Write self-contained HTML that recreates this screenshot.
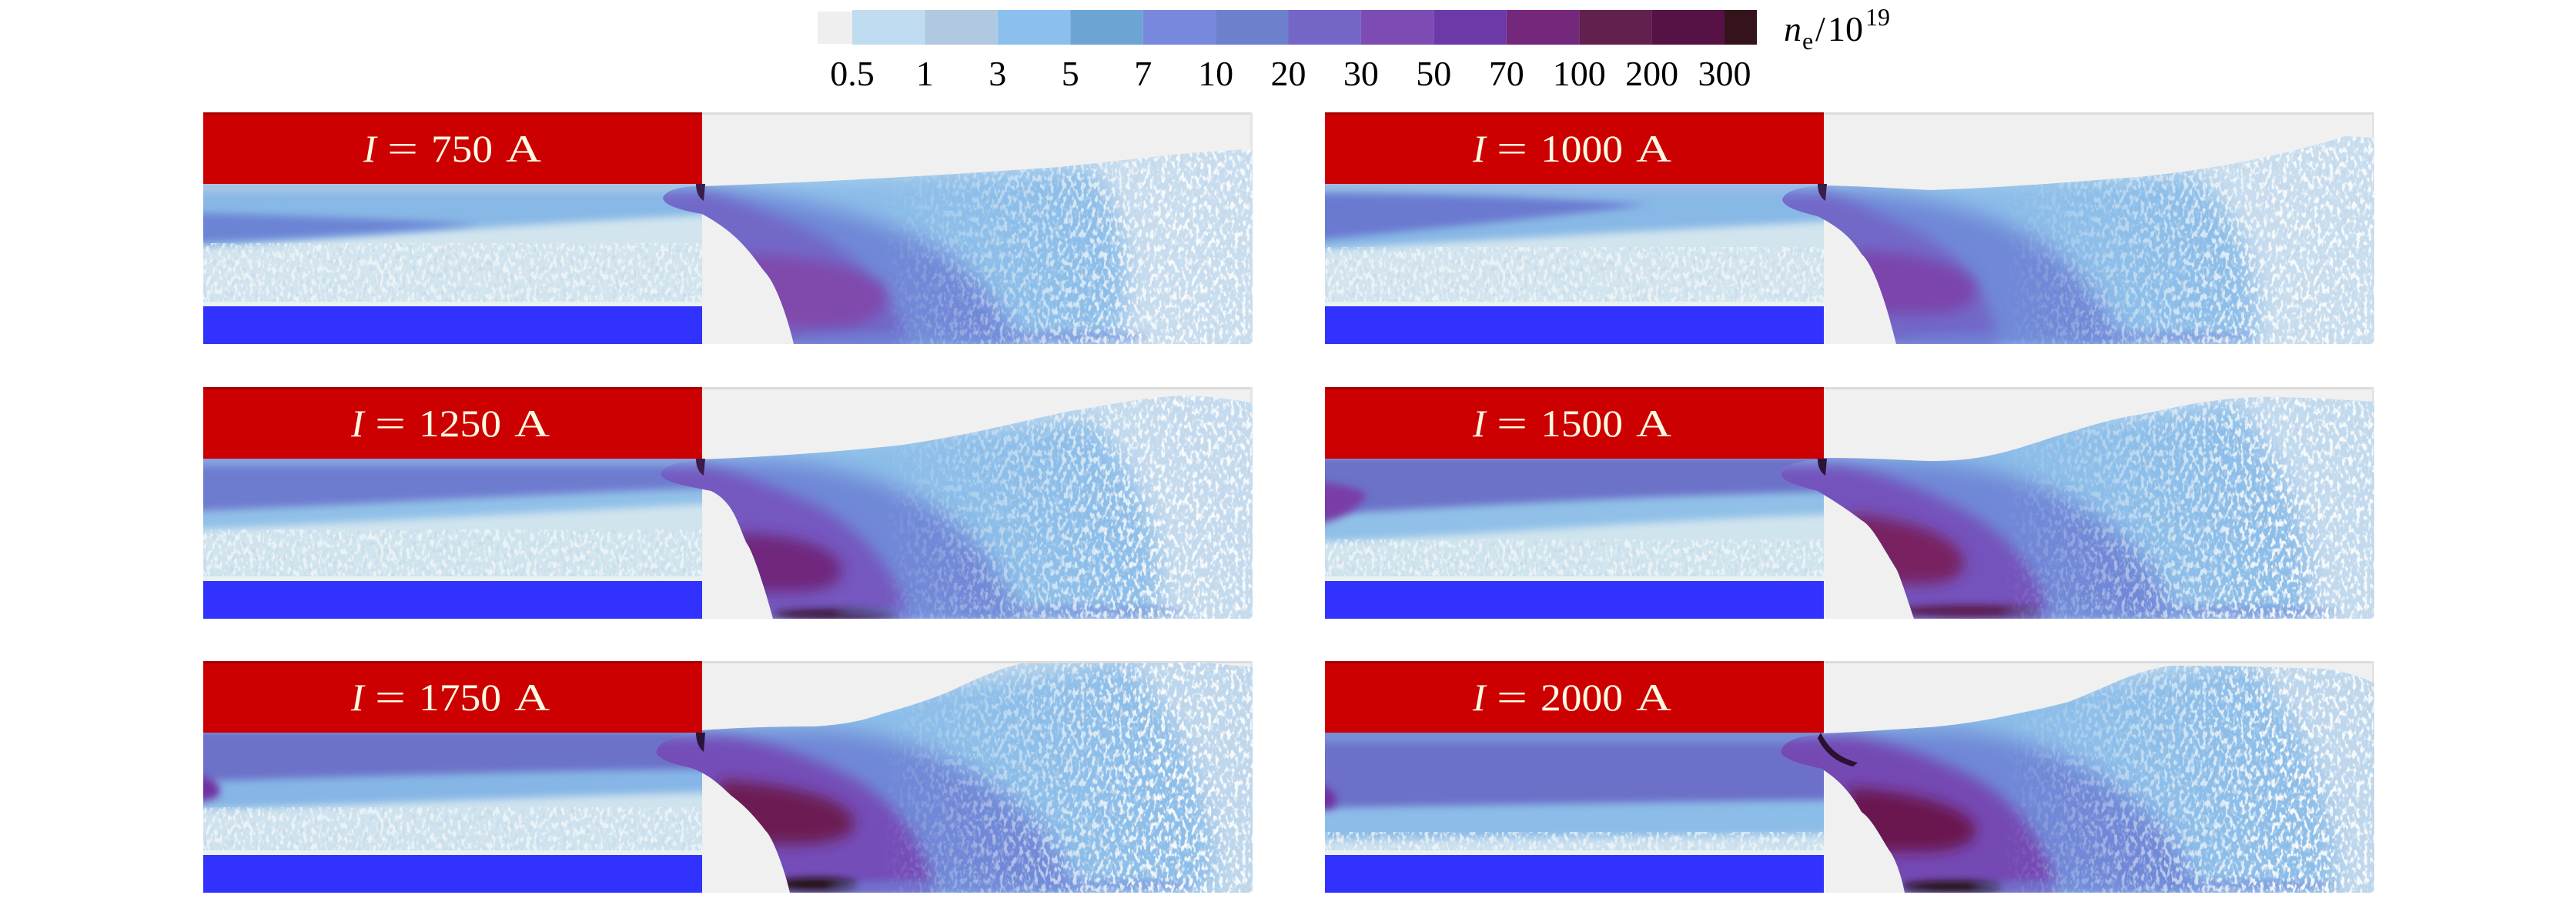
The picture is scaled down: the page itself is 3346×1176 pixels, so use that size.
<!DOCTYPE html>
<html><head><meta charset="utf-8"><style>
html,body{margin:0;padding:0;background:#fff;}
body{width:3346px;height:1176px;overflow:hidden;}
svg{display:block;}
</style></head><body>
<svg width="3346" height="1176" viewBox="0 0 3346 1176" xmlns="http://www.w3.org/2000/svg">
<defs>
<filter id="b1" x="-50%" y="-50%" width="200%" height="200%"><feGaussianBlur stdDeviation="14"/></filter>
<filter id="b2" x="-60%" y="-60%" width="220%" height="220%"><feGaussianBlur stdDeviation="9"/></filter>
<filter id="b3" x="-20%" y="-100%" width="140%" height="300%"><feGaussianBlur stdDeviation="5"/></filter>
<filter id="nz" x="0" y="0" width="100%" height="100%"><feTurbulence type="fractalNoise" baseFrequency="0.2 0.11" numOctaves="2" seed="5"/><feColorMatrix type="matrix" values="0 0 0 0 0.93  0 0 0 0 0.96  0 0 0 0 0.96  0 0 0 7 -3.5"/></filter>
<filter id="nz2" x="0" y="0" width="100%" height="100%"><feTurbulence type="fractalNoise" baseFrequency="0.22 0.12" numOctaves="2" seed="11"/><feColorMatrix type="matrix" values="0 0 0 0 0.55  0 0 0 0 0.66  0 0 0 0 0.84  0 0 0 8 -4.6"/></filter>
<linearGradient id="gR" gradientUnits="userSpaceOnUse" x1="880" y1="0" x2="1250" y2="0"><stop offset="0" stop-color="#000"/><stop offset="1" stop-color="#fff"/></linearGradient>
<mask id="mR" maskUnits="userSpaceOnUse" x="0" y="0" width="1363" height="301"><rect x="0" y="0" width="1363" height="301" fill="url(#gR)"/></mask>
<clipPath id="chan"><rect x="0" y="93" width="648" height="158"/></clipPath>
<clipPath id="pnl"><rect x="0" y="0" width="1363" height="301"/></clipPath>
<clipPath id="plA"><path d="M648,96 C760,92 900,86 1112,71 C1200,62 1290,50 1363,48 L1363,301 L767,301 C760,270 745,225 731,209 C715,190 700,160 648,132 C625,128 600,122 597,112 C598,102 620,96 640,96 Z"/></clipPath>
<clipPath id="plB"><path d="M648,95 C700,96 760,100 787,101 C900,97 1000,88 1056,84 C1150,75 1250,55 1325,31 L1363,33 L1363,301 L742,301 C732,260 715,200 697,184 C685,165 670,150 640,135 C620,130 597,124 594,114 C596,102 620,96 640,96 Z"/></clipPath>
<clipPath id="plC"><path d="M648,94 C750,90 850,82 909,75 C1000,62 1080,40 1122,32 C1190,20 1240,12 1272,11 C1310,12 1340,16 1363,21 L1363,301 L740,301 C732,270 715,215 706,203 C695,180 690,150 660,135 C635,130 597,124 594,114 C596,102 620,96 640,96 Z"/></clipPath>
<clipPath id="plD"><path d="M648,92 C720,92 760,96 787,96 C830,96 850,92 877,86 C910,78 940,66 966,59 C1000,48 1030,40 1056,36 C1090,30 1120,22 1146,19 C1180,14 1210,12 1236,13 C1290,14 1330,17 1363,19 L1363,301 L765,301 C755,270 745,240 742,236 C720,200 710,180 697,173 C680,160 665,150 640,135 C620,130 595,124 592,114 C594,102 620,95 640,95 Z"/></clipPath>
<clipPath id="plE"><path d="M648,90 C700,86 760,85 794,85 C840,82 860,76 884,68 C920,58 950,48 973,38 C1010,20 1040,8 1063,3 L1300,2 L1363,8 L1363,301 L762,301 C755,270 740,230 731,221 C715,200 700,185 686,175 C670,160 655,145 630,138 C610,134 590,128 588,118 C590,104 618,94 640,94 Z"/></clipPath>
<clipPath id="plF"><path d="M648,94 C700,92 750,88 787,86 C830,82 850,78 877,73 C920,64 940,60 966,53 C1000,40 1030,25 1056,16 C1075,10 1090,7 1101,6 C1200,6 1280,10 1300,10 C1330,15 1350,22 1363,29 L1363,301 L753,301 C748,275 740,255 733,246 C720,225 710,205 697,196 C685,175 670,155 645,140 C622,135 594,128 592,118 C594,104 618,96 640,96 Z"/></clipPath>
</defs>

<!-- ===== Colorbar ===== -->
<g>
<rect x="1062" y="15" width="45" height="42" fill="#efefef"/>
<rect x="1107" y="13" width="94.4" height="45" fill="#c0dcf0"/>
<rect x="1201.4" y="13" width="94.4" height="45" fill="#b0c8e0"/>
<rect x="1295.8" y="13" width="94.5" height="45" fill="#8cc0ec"/>
<rect x="1390.3" y="13" width="94.4" height="45" fill="#6ea4d4"/>
<rect x="1484.7" y="13" width="94.4" height="45" fill="#7888dc"/>
<rect x="1579.1" y="13" width="94.4" height="45" fill="#6c80cc"/>
<rect x="1673.5" y="13" width="94.4" height="45" fill="#7466c6"/>
<rect x="1767.9" y="13" width="94.4" height="45" fill="#7c4cb4"/>
<rect x="1862.3" y="13" width="94.5" height="45" fill="#6c3aa8"/>
<rect x="1956.8" y="13" width="94.4" height="45" fill="#74287c"/>
<rect x="2051.2" y="13" width="94.4" height="45" fill="#62204e"/>
<rect x="2145.6" y="13" width="94.4" height="45" fill="#561244"/>
<rect x="2240" y="13" width="42" height="45" fill="#34141a"/>
</g>
<g font-family="'Liberation Serif','DejaVu Serif',serif" font-size="46" fill="#000" text-anchor="middle">
<text x="1107" y="111">0.5</text>
<text x="1201.4" y="111">1</text>
<text x="1295.8" y="111">3</text>
<text x="1390.3" y="111">5</text>
<text x="1484.7" y="111">7</text>
<text x="1579.1" y="111">10</text>
<text x="1673.5" y="111">20</text>
<text x="1767.9" y="111">30</text>
<text x="1862.3" y="111">50</text>
<text x="1956.8" y="111">70</text>
<text x="2051.2" y="111">100</text>
<text x="2145.6" y="111">200</text>
<text x="2240" y="111">300</text>
</g>
<g font-family="'Liberation Serif','DejaVu Serif',serif" fill="#000">
<text x="2317" y="53" font-size="46" font-style="italic">n</text>
<text x="2341" y="64" font-size="32">e</text>
<text x="2358" y="53" font-size="46">/</text>
<text x="2374" y="53" font-size="46">10</text>
<text x="2423" y="33" font-size="32">19</text>
</g>

<!-- ===== Panel A: 750 A ===== -->
<g transform="translate(264,146)"><g clip-path="url(#pnl)">
<rect width="1363" height="301" fill="#f0f0f0"/>
<rect x="648" y="0" width="715" height="3" fill="#dcdcdc"/>
<rect x="1360" y="0" width="3" height="301" fill="#e4e4e4"/>
<g clip-path="url(#chan)">
<rect x="0" y="93" width="648" height="159" fill="#d2e5ee"/>
<path d="M-30,90 H680 V132 C500,140 300,155 -30,176 Z" fill="#88b8e6" filter="url(#b3)"/>
<path d="M-30,90 H680 V104 H-30 Z" fill="#a8c6e4" filter="url(#b3)"/>
<path d="M-30,130 C120,134 260,140 360,145 C240,156 120,164 -30,170Z" fill="#6c84d4" filter="url(#b3)"/>
<rect x="0" y="170" width="648" height="80" filter="url(#nz)" opacity="0.7"/>
<rect x="0" y="170" width="648" height="80" filter="url(#nz2)" opacity="0.5"/>
<rect x="0" y="246" width="648" height="6" fill="#e8f2f2"/>
</g>
<g clip-path="url(#plA)">
<rect x="580" y="0" width="790" height="301" fill="#c8ddee"/>
<path d="M560,90 L1150,70 C1200,120 1210,220 1190,301 L560,301 Z" fill="#8cbee9" filter="url(#b1)"/>
<path d="M560,100 L680,100 C800,115 920,145 985,200 C1030,240 1050,280 1060,301 L560,301 Z" fill="#6f88d7" filter="url(#b1)"/>
<path d="M560,104 L650,104 C690,112 730,130 780,150 C850,180 900,240 915,301 L560,301Z" fill="#7268c8" filter="url(#b2)"/>
<path d="M700,185 C780,185 860,200 885,230 C895,255 870,275 820,280 L700,280 Z" fill="#8048ac" filter="url(#b2)"/>
<ellipse cx="1000" cy="292" rx="230" ry="9" fill="#6c84d8" opacity="0.6" filter="url(#b3)"/>
<rect x="580" y="0" width="790" height="301" filter="url(#nz)" mask="url(#mR)"/>
<rect x="580" y="0" width="790" height="301" filter="url(#nz2)" mask="url(#mR)" opacity="0.6"/>
</g>
<rect x="0" y="0" width="648" height="93" fill="#cc0000"/>
<rect x="0" y="0" width="648" height="3" fill="#a80000"/>
<rect x="0" y="252" width="648" height="49" fill="#3232ff"/>
<path d="M640,93 L652,93 L650,115 C645,112 640,105 640,93 Z" fill="#3c1c48"/>
<g font-family="'Liberation Serif','DejaVu Serif',serif" font-size="50" fill="#fffbe3">
<text x="208" y="64" font-style="italic">I</text>
<text x="239" y="64" textLength="40" lengthAdjust="spacingAndGlyphs">=</text>
<text x="296" y="64" textLength="80" lengthAdjust="spacingAndGlyphs">750</text>
<text x="393" y="64" textLength="46" lengthAdjust="spacingAndGlyphs">A</text>
</g>
</g></g>

<!-- ===== Panel B: 1000 A ===== -->
<g transform="translate(1721,146)"><g clip-path="url(#pnl)">
<rect width="1363" height="301" fill="#f0f0f0"/>
<rect x="648" y="0" width="715" height="3" fill="#dcdcdc"/>
<rect x="1360" y="0" width="3" height="301" fill="#e4e4e4"/>
<g clip-path="url(#chan)">
<rect x="0" y="93" width="648" height="159" fill="#d2e5ee"/>
<path d="M-30,90 H680 V140 C500,150 300,160 -30,180 Z" fill="#88b8e6" filter="url(#b3)"/>
<path d="M-30,90 H680 V103 H-30 Z" fill="#9cbce4" filter="url(#b3)"/>
<path d="M-30,105 C150,105 300,112 420,120 C300,135 150,150 -30,168Z" fill="#6a7ad0" filter="url(#b3)"/>
<rect x="0" y="175" width="648" height="75" filter="url(#nz)" opacity="0.7"/>
<rect x="0" y="175" width="648" height="75" filter="url(#nz2)" opacity="0.5"/>
<rect x="0" y="246" width="648" height="6" fill="#e8f2f2"/>
</g>
<g clip-path="url(#plB)">
<rect x="580" y="0" width="790" height="301" fill="#c8ddee"/>
<path d="M560,90 L1130,80 C1190,130 1220,220 1210,301 L560,301Z" fill="#8cbee9" filter="url(#b1)"/>
<path d="M560,100 L700,102 C830,115 925,150 978,210 C1010,250 1030,280 1040,301 L560,301Z" fill="#6f88d7" filter="url(#b1)"/>
<path d="M560,106 L650,106 C690,115 725,135 770,155 C830,185 865,240 875,301 L560,301Z" fill="#7268c8" filter="url(#b2)"/>
<path d="M690,180 C760,182 830,195 845,225 C850,245 830,260 790,262 L690,262 Z" fill="#7c44ac" filter="url(#b2)"/>
<ellipse cx="980" cy="292" rx="230" ry="9" fill="#6c84d8" opacity="0.6" filter="url(#b3)"/>
<rect x="580" y="0" width="790" height="301" filter="url(#nz)" mask="url(#mR)"/>
<rect x="580" y="0" width="790" height="301" filter="url(#nz2)" mask="url(#mR)" opacity="0.6"/>
</g>
<rect x="0" y="0" width="648" height="93" fill="#cc0000"/>
<rect x="0" y="0" width="648" height="3" fill="#a80000"/>
<rect x="0" y="252" width="648" height="49" fill="#3232ff"/>
<path d="M640,93 L652,93 L650,115 C645,112 640,105 640,93 Z" fill="#3c1c48"/>
<g font-family="'Liberation Serif','DejaVu Serif',serif" font-size="50" fill="#fffbe3">
<text x="192" y="64" font-style="italic">I</text>
<text x="223" y="64" textLength="40" lengthAdjust="spacingAndGlyphs">=</text>
<text x="280" y="64" textLength="107" lengthAdjust="spacingAndGlyphs">1000</text>
<text x="404" y="64" textLength="46" lengthAdjust="spacingAndGlyphs">A</text>
</g>
</g></g>

<!-- ===== Panel C: 1250 A ===== -->
<g transform="translate(264,503)"><g clip-path="url(#pnl)">
<rect width="1363" height="301" fill="#f0f0f0"/>
<rect x="648" y="0" width="715" height="3" fill="#dcdcdc"/>
<rect x="1360" y="0" width="3" height="301" fill="#e4e4e4"/>
<g clip-path="url(#chan)">
<rect x="0" y="93" width="648" height="159" fill="#d0e4ee"/>
<path d="M-30,90 H680 V150 C500,160 300,170 -30,186 Z" fill="#90c0e8" filter="url(#b3)"/>
<path d="M-30,90 H680 V130 C450,138 250,150 -30,162 Z" fill="#6e7ccf" filter="url(#b3)"/>
<path d="M-30,90 H680 V102 H-30 Z" fill="#8aa8e0" filter="url(#b3)"/>
<rect x="0" y="185" width="648" height="65" filter="url(#nz)" opacity="0.7"/>
<rect x="0" y="185" width="648" height="65" filter="url(#nz2)" opacity="0.5"/>
<rect x="0" y="246" width="648" height="6" fill="#e8f2f2"/>
</g>
<g clip-path="url(#plC)">
<rect x="580" y="0" width="790" height="301" fill="#c4dbee"/>
<path d="M560,90 L1150,40 C1230,120 1250,220 1240,301 L560,301Z" fill="#8cbee9" filter="url(#b1)"/>
<path d="M560,98 L740,95 C870,105 965,150 1018,220 C1045,260 1055,285 1060,301 L560,301Z" fill="#6f88d7" filter="url(#b1)"/>
<path d="M560,104 L660,104 C700,112 740,130 790,150 C860,185 905,245 915,301 L560,301Z" fill="#7458c0" filter="url(#b2)"/>
<path d="M690,190 C760,190 820,205 830,235 C830,255 810,265 770,266 L690,266Z" fill="#70287c" filter="url(#b2)"/>
<ellipse cx="820" cy="295" rx="80" ry="7" fill="#401838" filter="url(#b3)"/>
<ellipse cx="1050" cy="292" rx="230" ry="9" fill="#6c84d8" opacity="0.6" filter="url(#b3)"/>
<rect x="580" y="0" width="790" height="301" filter="url(#nz)" mask="url(#mR)"/>
<rect x="580" y="0" width="790" height="301" filter="url(#nz2)" mask="url(#mR)" opacity="0.6"/>
</g>
<rect x="0" y="0" width="648" height="93" fill="#cc0000"/>
<rect x="0" y="0" width="648" height="3" fill="#a80000"/>
<rect x="0" y="252" width="648" height="49" fill="#3232ff"/>
<path d="M640,93 L652,93 L650,115 C645,112 640,105 640,93 Z" fill="#3c1c48"/>
<g font-family="'Liberation Serif','DejaVu Serif',serif" font-size="50" fill="#fffbe3">
<text x="192" y="64" font-style="italic">I</text>
<text x="223" y="64" textLength="40" lengthAdjust="spacingAndGlyphs">=</text>
<text x="280" y="64" textLength="107" lengthAdjust="spacingAndGlyphs">1250</text>
<text x="404" y="64" textLength="46" lengthAdjust="spacingAndGlyphs">A</text>
</g>
</g></g>

<!-- ===== Panel D: 1500 A ===== -->
<g transform="translate(1721,503)"><g clip-path="url(#pnl)">
<rect width="1363" height="301" fill="#f0f0f0"/>
<rect x="648" y="0" width="715" height="3" fill="#dcdcdc"/>
<rect x="1360" y="0" width="3" height="301" fill="#e4e4e4"/>
<g clip-path="url(#chan)">
<rect x="0" y="93" width="648" height="159" fill="#d0e4ee"/>
<path d="M-30,90 H680 V165 C450,170 250,190 -30,202Z" fill="#90c0e8" filter="url(#b3)"/>
<path d="M-30,90 H680 V135 C450,140 250,150 -30,167Z" fill="#6c72c8" filter="url(#b3)"/>
<path d="M-30,122 C20,125 40,130 55,140 C40,160 20,175 -30,182Z" fill="#7a3ca8" filter="url(#b3)"/>
<rect x="0" y="198" width="648" height="52" filter="url(#nz)" opacity="0.7"/>
<rect x="0" y="198" width="648" height="52" filter="url(#nz2)" opacity="0.5"/>
<rect x="0" y="246" width="648" height="6" fill="#e8f2f2"/>
</g>
<g clip-path="url(#plD)">
<rect x="580" y="0" width="790" height="301" fill="#c2daee"/>
<path d="M560,90 L1180,20 C1260,110 1290,220 1280,301 L560,301Z" fill="#8cbee9" filter="url(#b1)"/>
<path d="M560,95 L760,95 C900,100 1000,150 1060,220 C1090,260 1100,285 1100,301 L560,301Z" fill="#6f88d7" filter="url(#b1)"/>
<path d="M560,102 L670,102 C720,110 770,130 820,155 C890,190 930,245 940,301 L560,301Z" fill="#7452bc" filter="url(#b2)"/>
<path d="M680,165 C750,170 820,190 830,225 C832,245 815,255 770,256 L680,256Z" fill="#782262" filter="url(#b2)"/>
<ellipse cx="836" cy="291" rx="95" ry="8" fill="#5a1c50" filter="url(#b3)"/>
<ellipse cx="1100" cy="292" rx="220" ry="9" fill="#6c84d8" opacity="0.6" filter="url(#b3)"/>
<rect x="580" y="0" width="790" height="301" filter="url(#nz)" mask="url(#mR)"/>
<rect x="580" y="0" width="790" height="301" filter="url(#nz2)" mask="url(#mR)" opacity="0.6"/>
</g>
<rect x="0" y="0" width="648" height="93" fill="#cc0000"/>
<rect x="0" y="0" width="648" height="3" fill="#a80000"/>
<rect x="0" y="252" width="648" height="49" fill="#3232ff"/>
<path d="M640,93 L652,93 L650,115 C645,112 640,105 640,93 Z" fill="#2c1438"/>
<g font-family="'Liberation Serif','DejaVu Serif',serif" font-size="50" fill="#fffbe3">
<text x="192" y="64" font-style="italic">I</text>
<text x="223" y="64" textLength="40" lengthAdjust="spacingAndGlyphs">=</text>
<text x="280" y="64" textLength="107" lengthAdjust="spacingAndGlyphs">1500</text>
<text x="404" y="64" textLength="46" lengthAdjust="spacingAndGlyphs">A</text>
</g>
</g></g>

<!-- ===== Panel E: 1750 A ===== -->
<g transform="translate(264,859)"><g clip-path="url(#pnl)">
<rect width="1363" height="301" fill="#f0f0f0"/>
<rect x="648" y="0" width="715" height="3" fill="#dcdcdc"/>
<rect x="1360" y="0" width="3" height="301" fill="#e4e4e4"/>
<g clip-path="url(#chan)">
<rect x="0" y="93" width="648" height="159" fill="#cfe3ee"/>
<path d="M-30,90 H680 V170 C450,175 250,185 -30,194Z" fill="#86b6e6" filter="url(#b3)"/>
<path d="M-30,90 H680 V140 C450,142 250,148 -30,157Z" fill="#6c72c8" filter="url(#b3)"/>
<path d="M-30,145 C15,148 25,160 20,175 C12,180 5,182 -30,185Z" fill="#7030a0" filter="url(#b3)"/>
<rect x="0" y="190" width="648" height="60" filter="url(#nz)" opacity="0.7"/>
<rect x="0" y="190" width="648" height="60" filter="url(#nz2)" opacity="0.5"/>
<rect x="0" y="246" width="648" height="6" fill="#e8f2f2"/>
</g>
<g clip-path="url(#plE)">
<rect x="580" y="0" width="790" height="301" fill="#bed7ec"/>
<path d="M560,88 L1200,0 C1290,100 1320,220 1310,301 L560,301Z" fill="#8cbee9" filter="url(#b1)"/>
<path d="M560,92 L800,88 C930,95 1030,150 1090,220 C1120,260 1130,285 1130,301 L560,301Z" fill="#6f88d7" filter="url(#b1)"/>
<path d="M560,98 L680,98 C740,106 790,125 840,150 C905,185 940,245 950,301 L560,301Z" fill="#744eb8" filter="url(#b2)"/>
<path d="M670,155 C750,158 830,175 845,205 C848,225 830,235 780,238 L670,238Z" fill="#6c1a52" filter="url(#b2)"/>
<ellipse cx="795" cy="290" rx="55" ry="8" fill="#200810" filter="url(#b3)"/>
<ellipse cx="1050" cy="292" rx="240" ry="9" fill="#6c84d8" opacity="0.6" filter="url(#b3)"/>
<rect x="580" y="0" width="790" height="301" filter="url(#nz)" mask="url(#mR)"/>
<rect x="580" y="0" width="790" height="301" filter="url(#nz2)" mask="url(#mR)" opacity="0.6"/>
</g>
<rect x="0" y="0" width="648" height="93" fill="#cc0000"/>
<rect x="0" y="0" width="648" height="3" fill="#a80000"/>
<rect x="0" y="252" width="648" height="49" fill="#3232ff"/>
<path d="M640,93 L652,93 L650,118 C645,114 640,106 640,93 Z" fill="#2c1438"/>
<g font-family="'Liberation Serif','DejaVu Serif',serif" font-size="50" fill="#fffbe3">
<text x="192" y="64" font-style="italic">I</text>
<text x="223" y="64" textLength="40" lengthAdjust="spacingAndGlyphs">=</text>
<text x="280" y="64" textLength="107" lengthAdjust="spacingAndGlyphs">1750</text>
<text x="404" y="64" textLength="46" lengthAdjust="spacingAndGlyphs">A</text>
</g>
</g></g>

<!-- ===== Panel F: 2000 A ===== -->
<g transform="translate(1721,859)"><g clip-path="url(#pnl)">
<rect width="1363" height="301" fill="#f0f0f0"/>
<rect x="648" y="0" width="715" height="3" fill="#dcdcdc"/>
<rect x="1360" y="0" width="3" height="301" fill="#e4e4e4"/>
<g clip-path="url(#chan)">
<rect x="0" y="93" width="648" height="159" fill="#cde2ee"/>
<path d="M-30,90 H680 V225 C450,228 250,230 -30,233Z" fill="#8cbce8" filter="url(#b3)"/>
<path d="M-30,90 H680 V180 C450,183 250,186 -30,191Z" fill="#6c70c8" filter="url(#b3)"/>
<path d="M-30,90 H680 V107 H-30 Z" fill="#7890d8" filter="url(#b3)"/>
<path d="M-30,155 C15,160 20,180 10,192 L-30,194Z" fill="#7030a0" filter="url(#b3)"/>
<rect x="0" y="222" width="648" height="28" filter="url(#nz)" opacity="0.7"/>
<rect x="0" y="222" width="648" height="28" filter="url(#nz2)" opacity="0.5"/>
<rect x="0" y="246" width="648" height="6" fill="#e8f2f2"/>
</g>
<g clip-path="url(#plF)">
<rect x="580" y="0" width="790" height="301" fill="#bed7ec"/>
<path d="M560,88 L1200,0 C1290,100 1320,220 1310,301 L560,301Z" fill="#8cbee9" filter="url(#b1)"/>
<path d="M560,92 L800,88 C930,95 1030,150 1090,220 C1120,260 1130,285 1130,301 L560,301Z" fill="#6f88d7" filter="url(#b1)"/>
<path d="M560,98 L680,98 C740,106 790,125 840,150 C905,185 940,245 950,301 L560,301Z" fill="#7448b4" filter="url(#b2)"/>
<path d="M680,165 C750,168 830,185 845,215 C848,235 830,245 780,248 L680,248Z" fill="#6a1850" filter="url(#b2)"/>
<ellipse cx="815" cy="293" rx="65" ry="7" fill="#200810" filter="url(#b3)"/>
<ellipse cx="1080" cy="292" rx="240" ry="9" fill="#6c84d8" opacity="0.6" filter="url(#b3)"/>
<rect x="580" y="0" width="790" height="301" filter="url(#nz)" mask="url(#mR)"/>
<rect x="580" y="0" width="790" height="301" filter="url(#nz2)" mask="url(#mR)" opacity="0.6"/>
</g>
<rect x="0" y="0" width="648" height="93" fill="#cc0000"/>
<rect x="0" y="0" width="648" height="3" fill="#a80000"/>
<rect x="0" y="252" width="648" height="49" fill="#3232ff"/>
<path d="M644,93 C652,110 665,125 692,132 L686,137 C664,132 648,118 640,100 Z" fill="#2a1230"/>
<g font-family="'Liberation Serif','DejaVu Serif',serif" font-size="50" fill="#fffbe3">
<text x="192" y="64" font-style="italic">I</text>
<text x="223" y="64" textLength="40" lengthAdjust="spacingAndGlyphs">=</text>
<text x="280" y="64" textLength="107" lengthAdjust="spacingAndGlyphs">2000</text>
<text x="404" y="64" textLength="46" lengthAdjust="spacingAndGlyphs">A</text>
</g>
</g></g>
</svg>
</body></html>
